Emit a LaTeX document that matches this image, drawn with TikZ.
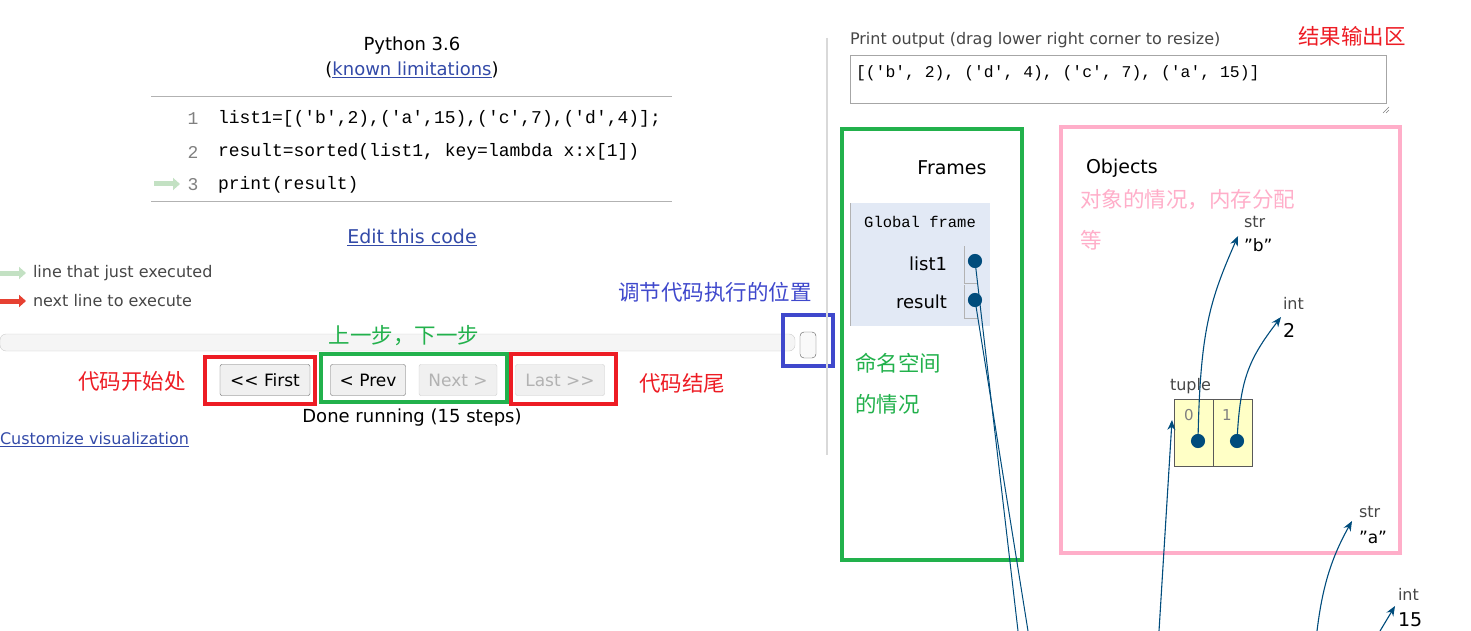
\documentclass[tikz,border=0pt]{standalone}
\usepackage{fontspec}
\setmainfont{DejaVu Sans}
\newfontfamily\cjk{Noto Sans CJK SC}
\newfontfamily\codefont{Liberation Mono}
\usetikzlibrary{arrows.meta}
\definecolor{arr}{RGB}{0,76,124}
\definecolor{lnk}{RGB}{51,74,168}
\definecolor{redbx}{RGB}{237,28,36}
\definecolor{grnbx}{RGB}{34,177,76}
\definecolor{blubx}{RGB}{63,72,204}
\definecolor{pinkbx}{RGB}{255,174,201}
\definecolor{txtg}{RGB}{70,70,70}
\definecolor{frbg}{RGB}{226,233,245}
\definecolor{tupbg}{RGB}{255,255,198}
\definecolor{arrg}{RGB}{195,225,195}
\definecolor{arrr}{RGB}{230,65,50}
\tikzset{
 every node/.style={inner sep=0pt,outer sep=0pt},
 lbl/.style={font=\fontsize{16}{18}\selectfont,text=txtg},
 code/.style={font=\codefont\fontsize{18}{20}\selectfont,anchor=west},
 num/.style={font=\codefont\fontsize{18}{20}\selectfont,text=gray},
 cn/.style={font=\cjk\fontsize{21.5}{24}\selectfont},
 btn/.style={draw=gray!80!black,fill=gray!12,rounded corners=2pt,minimum height=31pt,font=\fontsize{17}{19}\selectfont},
 btnd/.style={btn,draw=gray!40,text=gray!60},
 hl/.style={line width=3.5pt},
 ptr/.style={draw=arr,line width=1.1pt,-{Stealth[length=10pt,width=8pt]}},
 dot/.style={circle,fill=arr,inner sep=5pt},
 legarr/.style={line width=5pt,-{Triangle[length=7pt,width=12pt]}},
}
\begin{document}
\begin{tikzpicture}[x=1pt,y=-1pt]
\useasboundingbox (0,0) rectangle (1471,631);
% left column
\node[font=\fontsize{18}{20}\selectfont] (py) at (412,46) {Python 3.6};
\node[font=\fontsize{18}{20}\selectfont] (kl) at (412,70) {(\textcolor{lnk}{\underline{known limitations}})};
\draw[gray!60,line width=1pt] (151,97) -- (672,97);
\draw[gray!60,line width=1pt] (151,201) -- (672,201);
\node[num] (n1) at (193,119) {1};
\node[num] (n2) at (193,152) {2};
\node[num] (n3) at (193,185) {3};
\node[code] (c1) at (218,119) {list1=[('b',2),('a',15),('c',7),('d',4)];};
\node[code] (c2) at (218,152) {result=sorted(list1, key=lambda x:x[1])};
\node[code] (c3) at (218,185) {print(result)};
\draw[legarr,arrg] (154,184) -- (180,184);
\node[font=\fontsize{19}{21}\selectfont] (edit) at (412,237) {\textcolor{lnk}{\underline{Edit this code}}};
\draw[legarr,arrg] (0,273) -- (26,273);
\draw[legarr,arrr] (0,301) -- (26,301);
\node[lbl,anchor=west] (lg1) at (33,273) {line that just executed};
\node[lbl,anchor=west] (lg2) at (33,301) {next line to execute};
\node[cn,text=blubx] (tj) at (715,292) {调节代码执行的位置};
% slider
\draw[gray!40,fill=gray!8,rounded corners=6pt] (0,334) rectangle (795,351);
\draw[gray!70!black,fill=gray!5,rounded corners=4pt] (800,332) rectangle (816,358);
\draw[blubx,hl] (783,315) rectangle (833,366);
\node[cn,text=grnbx] (syb) at (404,336) {上一步，下一步};
% buttons
\node[btn,minimum width=90pt] (first) at (265,380) {{<}{<} First};
\node[btn,minimum width=75pt] (prev) at (368,380) {< Prev};
\node[btnd,minimum width=78pt] (next) at (458,380) {Next >};
\node[btnd,minimum width=89pt] (last) at (560,380) {Last {>}{>}};
\draw[redbx,hl] (205,357) rectangle (315,404);
\draw[grnbx,hl] (321,354) rectangle (507,402);
\draw[redbx,hl] (511,354) rectangle (616,404);
\node[cn,text=redbx] (ks) at (132,381) {代码开始处};
\node[cn,text=redbx] (jw) at (682,383) {代码结尾};
\node[font=\fontsize{18}{20}\selectfont] (done) at (412,418) {Done running (15 steps)};
\node[anchor=west,font=\fontsize{16}{18}\selectfont] (cust) at (0,440) {\textcolor{lnk}{\underline{Customize visualization}}};
\draw[gray!30,line width=1.2pt] (827,38) -- (827,455);
% print output
\node[lbl,anchor=west] (po) at (850,40) {Print output (drag lower right corner to resize)};
\draw[gray!70,line width=1pt] (850,56) rectangle (1386,104);
\node[code,font=\codefont\fontsize{16.4}{18}\selectfont] (out) at (856,73) {[('b', 2), ('d', 4), ('c', 7), ('a', 15)]};
\foreach \d in {0,3,6} \draw[gray] (1389-\d,113) -- (1389,113-\d) ;
\node[cn,text=redbx] (jg) at (1352,36) {结果输出区};
% frames
\fill[frbg] (850,203) rectangle (990,326);
\draw[gray!60] (850,203) -- (850,326);
\node[font=\fontsize{19}{21}\selectfont] (fr) at (952,168) {Frames};
\node[font=\codefont\fontsize{15.5}{17}\selectfont] (gf) at (920,222) {Global frame};
\node[font=\fontsize{18}{20}\selectfont,anchor=east] (l1) at (947,264) {list1};
\node[font=\fontsize{18}{20}\selectfont,anchor=east] (rs) at (947,302) {result};
\draw[gray!60] (964,246) -- (964,283) -- (978,283);
\draw[gray!60] (964,285) -- (964,318) -- (978,318);
\node[dot] (d1) at (975,261) {};
\node[dot] (d2) at (975,300) {};
\draw[grnbx,hl] (842,129) rectangle (1022,560);
\node[cn,text=grnbx,anchor=west] (mm1) at (855,363) {命名空间};
\node[cn,text=grnbx,anchor=west] (mm2) at (855,404) {的情况};
% objects
\draw[pinkbx,hl] (1061,127) rectangle (1400,553);
\node[font=\fontsize{19}{21}\selectfont,anchor=west] (ob) at (1086,168) {Objects};
\node[cn,text=pinkbx,anchor=west] (dx) at (1080,200) {对象的情况，内存分配};
\node[cn,text=pinkbx,anchor=west] (dd) at (1080,240) {等};
\node[lbl,anchor=west] (sb) at (1244,222) {str};
\node[font=\rmfamily\fontsize{17}{19}\selectfont,anchor=west] (sbv) at (1244,245) {''b''};
\node[lbl,anchor=west] (ib) at (1283,303) {int};
\node[font=\fontsize{19}{21}\selectfont,anchor=west] (ibv) at (1283,330) {2};
\node[lbl,anchor=west] (tl) at (1170,386) {tuple};
\draw[gray!70!black,fill=tupbg] (1174,399) rectangle (1252,466);
\draw[gray!70!black] (1213,399) -- (1213,466);
\node[font=\fontsize{15}{17}\selectfont,text=gray] (t0) at (1189,415) {0};
\node[font=\fontsize{15}{17}\selectfont,text=gray] (t1) at (1227,415) {1};
\node[dot] (td0) at (1198,441) {};
\node[dot] (td1) at (1237,441) {};
\node[lbl,anchor=west] (sa) at (1359,512) {str};
\node[font=\rmfamily\fontsize{17}{19}\selectfont,anchor=west] (sav) at (1359,537) {''a''};
\node[lbl,anchor=west] (i15) at (1398,594) {int};
\node[font=\fontsize{19}{21}\selectfont,anchor=west] (i15v) at (1398,620) {15};
\coordinate (sbt) at (1238,236);
\coordinate (ibt) at (1281,317);
\coordinate (tin) at (1172,420);
\coordinate (b1) at (1018,631);
\coordinate (b2) at (1028,631);
\coordinate (b3) at (1159,631);
\coordinate (b4) at (1317,631);
\coordinate (b5) at (1380,631);
\coordinate (sat) at (1352,521);
\coordinate (i15t) at (1395,606);
\draw[arr,line width=1pt] (d1.center) -- (b1);
\draw[arr,line width=1pt] (d2.center) -- (b2);
\draw[ptr] (td0.center) .. controls (1200,330) and (1210,300) .. (sbt);
\draw[ptr] (td1.center) .. controls (1240,380) and (1248,360) .. (ibt);
\draw[ptr] (b3) -- (tin);
\draw[ptr] (b4) .. controls (1322,590) and (1330,560) .. (sat);
\draw[ptr] (b5) -- (i15t);
\end{tikzpicture}
\end{document}
